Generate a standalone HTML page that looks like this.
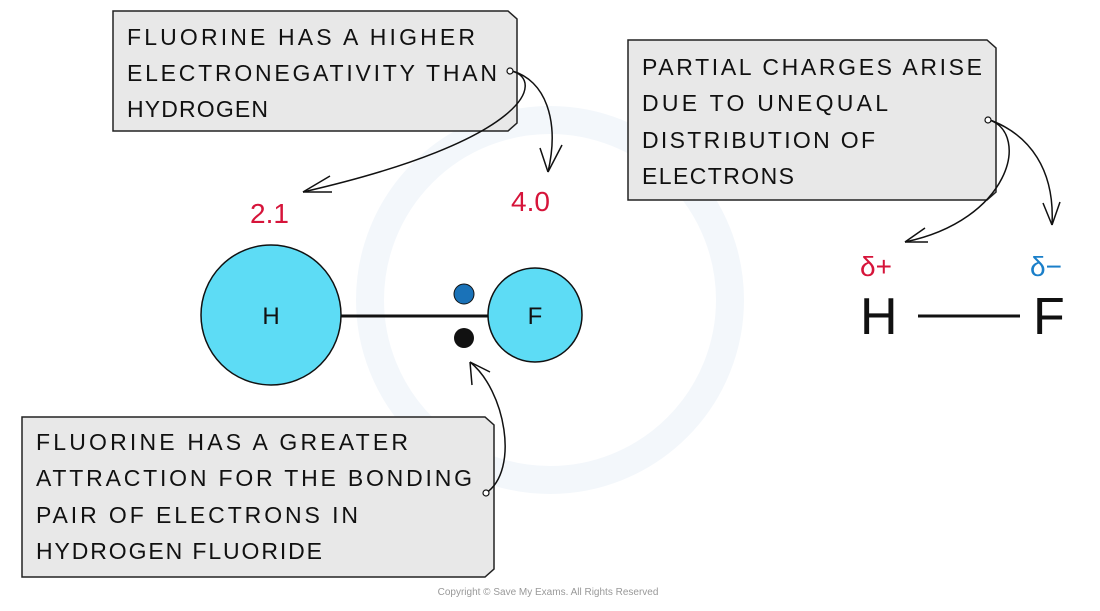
<!DOCTYPE html>
<html><head><style>body{margin:0;background:#fff}svg{display:block}text{font-family:"Liberation Sans",sans-serif}</style></head><body>
<svg width="1100" height="611" viewBox="0 0 1100 611">
<circle cx="550" cy="300" r="180" fill="none" stroke="#f3f7fb" stroke-width="28"/>
<g stroke="#222" stroke-width="1.5" fill="#e8e8e8">
<path d="M113 11 H508 L517 19 V123 L508 131 H113 Z"/>
<path d="M628 40 H987 L996 48 V192 L987 200 H628 Z"/>
<path d="M22 417 H485 L494 425 V569 L485 577 H22 Z"/>
</g>
<g font-size="23" fill="#111" lengthAdjust="spacing">
<text x="127" y="45" textLength="348" lengthAdjust="spacing">FLUORINE  HAS  A  HIGHER</text>
<text x="127" y="81" textLength="370" lengthAdjust="spacing">ELECTRONEGATIVITY  THAN</text>
<text x="127" y="117" textLength="141" lengthAdjust="spacing">HYDROGEN</text>
<text x="642" y="75" textLength="340" lengthAdjust="spacing">PARTIAL  CHARGES  ARISE</text>
<text x="642" y="111" textLength="246" lengthAdjust="spacing">DUE  TO  UNEQUAL</text>
<text x="642" y="148" textLength="233" lengthAdjust="spacing">DISTRIBUTION  OF</text>
<text x="642" y="184" textLength="152" lengthAdjust="spacing">ELECTRONS</text>
<text x="36" y="450" textLength="372" lengthAdjust="spacing">FLUORINE  HAS  A  GREATER</text>
<text x="36" y="486" textLength="436" lengthAdjust="spacing">ATTRACTION  FOR  THE  BONDING</text>
<text x="36" y="523" textLength="322" lengthAdjust="spacing">PAIR  OF  ELECTRONS  IN</text>
<text x="36" y="559" textLength="286" lengthAdjust="spacing">HYDROGEN  FLUORIDE</text>
</g>
<g font-size="28" fill="#d6143a">
<text x="250" y="223">2.1</text><text x="511" y="211">4.0</text>
<text x="860" y="276" font-size="28">δ+</text>
</g>
<text x="1030" y="276" font-size="28" fill="#1a7fc9">δ−</text>
<line x1="340" y1="316" x2="492" y2="316" stroke="#111" stroke-width="3"/>
<circle cx="271" cy="315" r="70" fill="#5ddcf5" stroke="#111" stroke-width="1.5"/>
<circle cx="535" cy="315" r="47" fill="#5ddcf5" stroke="#111" stroke-width="1.5"/>
<text x="271" y="324" font-size="24" text-anchor="middle" fill="#111">H</text>
<text x="535" y="324" font-size="24" text-anchor="middle" fill="#111">F</text>
<circle cx="464" cy="294" r="10" fill="#1a72b8" stroke="#111" stroke-width="1"/>
<circle cx="464" cy="338" r="10" fill="#111"/>
<g font-size="52" fill="#111"><text x="860" y="334">H</text><text x="1033" y="334">F</text></g>
<line x1="918" y1="316" x2="1020" y2="316" stroke="#111" stroke-width="3"/>
<g fill="none" stroke="#111" stroke-width="1.5">
<path d="M512 71 C545 80 530 140 303 192"/><path d="M303 192 L330 176 M303 192 L332 192"/>
<path d="M512 71 C545 80 560 120 548 172"/><path d="M548 172 L540 148 M548 172 L562 145"/>
<path d="M990 120 C1030 135 1010 220 905 242"/><path d="M905 242 L925 228 M905 242 L928 242"/>
<path d="M990 120 C1030 135 1055 170 1052 225"/><path d="M1052 225 L1043 203 M1052 225 L1060 202"/>
<path d="M486 493 C520 470 505 390 470 362"/><path d="M470 362 L472 385 M470 362 L490 372"/>
</g>
<g fill="#fff" stroke="#111" stroke-width="1.2"><circle cx="510" cy="71" r="3"/><circle cx="988" cy="120" r="3"/><circle cx="486" cy="493" r="3"/></g>
<text x="548" y="595" font-size="10" fill="#999" text-anchor="middle">Copyright © Save My Exams. All Rights Reserved</text>
</svg>
</body></html>
